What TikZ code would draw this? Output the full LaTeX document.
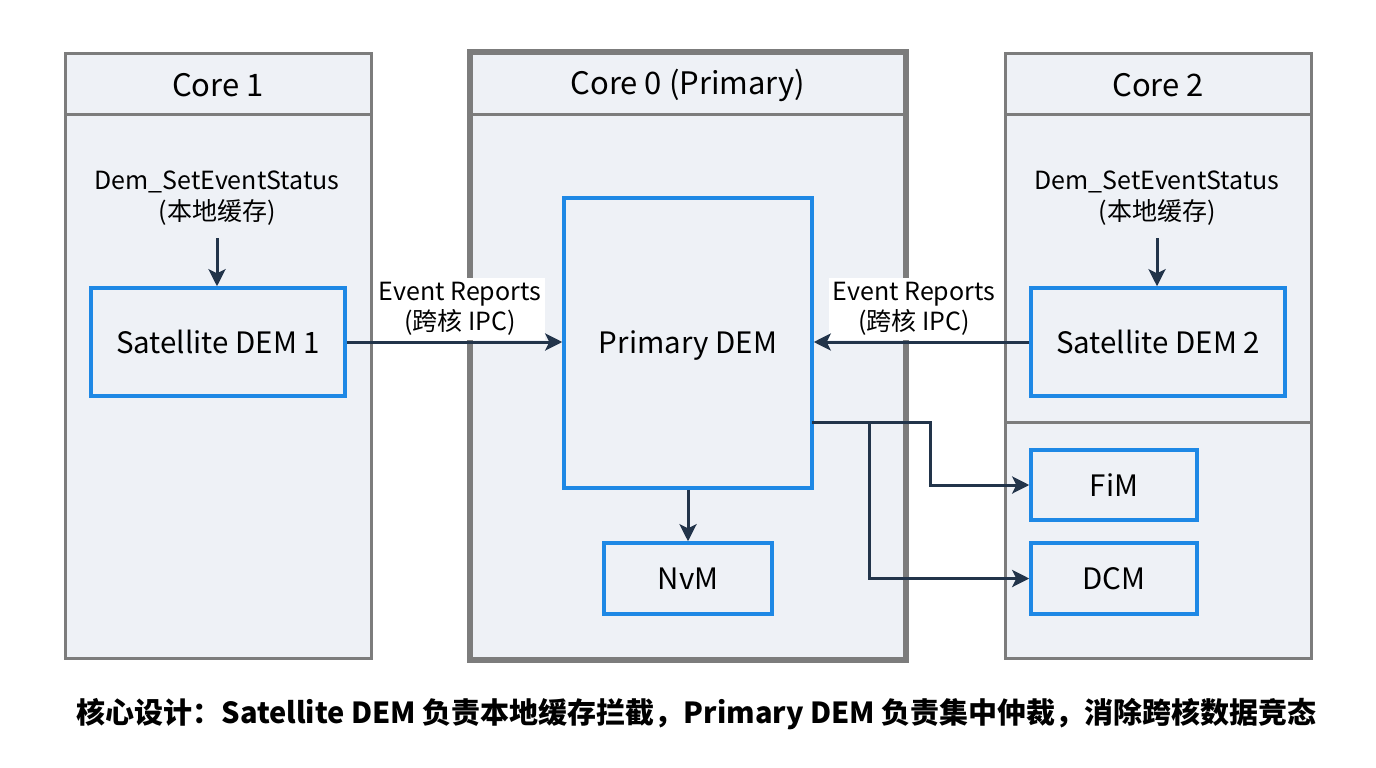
\documentclass[tikz,border=0pt]{standalone}
\usepackage{fontspec}
\setmainfont{Noto Sans CJK SC}
\usetikzlibrary{arrows.meta}
\definecolor{corefill}{HTML}{EEF1F6}
\definecolor{coreline}{HTML}{7C7C7C}
\definecolor{bluebox}{HTML}{1E88E5}
\definecolor{arrowc}{HTML}{22344A}
\tikzset{
  corebox/.style={draw=coreline, fill=corefill, line width=3pt, inner sep=0pt},
  mainbox/.style={draw=coreline, fill=corefill, line width=6pt, inner sep=0pt},
  divider/.style={draw=coreline, line width=3pt},
  blk/.style={draw=bluebox, fill=corefill, line width=3.5pt, inner sep=0pt},
  arr/.style={draw=arrowc, line width=3pt, -{Stealth[length=17pt,width=17pt,inset=4pt]}},
  lbl/.style={font=\fontsize{25}{31}\selectfont, align=center, inner sep=0pt},
  elbl/.style={font=\fontsize{25}{30}\selectfont, align=center, fill=white, inner xsep=4pt, inner ysep=4pt},
  hdr/.style={font=\fontsize{31}{36}\selectfont},
  blktxt/.style={font=\fontsize{29.5}{34}\selectfont},
}
\begin{document}
\begin{tikzpicture}[x=1pt,y=-1pt]
\useasboundingbox (0,0) rectangle (1376,768);
\fill[white] (0,0) rectangle (1376,768);
% cores
\node[corebox, minimum width=306pt, minimum height=604pt] (core1) at (218,356) {};
\node[corebox, minimum width=306pt, minimum height=604pt] (core2) at (1158,356) {};
\node[mainbox, minimum width=436pt, minimum height=608pt] (core0) at (688,356) {};
\draw[divider] (65,114) -- (371,114);
\draw[divider] (473,114) -- (903,114);
\draw[divider] (1005,114) -- (1311,114);
\draw[divider] (1005,422) -- (1311,422);
% headers
\node[hdr] (h1) at (218,85) {Core 1};
\node[hdr] (h0) at (688,85) {Core 0 (Primary)};
\node[hdr] (h2) at (1158,85) {Core 2};
% blocks
\node[blk, blktxt, minimum width=254pt, minimum height=108pt] (sat1) at (218,342) {Satellite DEM 1};
\node[blk, blktxt, minimum width=254pt, minimum height=108pt] (sat2) at (1158,342) {Satellite DEM 2};
\node[blk, minimum width=248pt, minimum height=290pt] (prim) at (688,343) {};
\node[blktxt] (primt) at (688,346) {Primary DEM};
\node[blk, blktxt, minimum width=168pt, minimum height=71pt] (nvm) at (688,578.5) {NvM};
\node[blk, blktxt, minimum width=166pt, minimum height=70pt] (fim) at (1114,485) {FiM};
\node[blk, blktxt, minimum width=166pt, minimum height=71pt] (dcm) at (1114,578.5) {DCM};
% API labels
\node[lbl] (api1) at (217,198) {Dem\_SetEventStatus\\(本地缓存)};
\node[lbl] (api2) at (1157,198) {Dem\_SetEventStatus\\(本地缓存)};
\draw[arr] (217,238) -- (sat1.north -| 217,0);
\draw[arr] (1157,238) -- (sat2.north -| 1157,0);
% event report labels
\node[elbl] (ev1) at (460,309) {Event Reports\\(跨核 IPC)};
\node[elbl] (ev2) at (914,309) {Event Reports\\(跨核 IPC)};
\draw[arr] (sat1.east) -- (prim.west |- sat1.east);
\draw[arr] (sat2.west) -- (prim.east |- sat2.west);
\draw[arr] (prim.south) -- (nvm.north);
% to FiM / DCM
\coordinate (pout) at (812,422);
\coordinate (br) at (869,422);
\draw[arr] (pout) -- (930,422) |- (fim.west);
\draw[arr] (br) |- (dcm.west);
% footer
\node[font=\bfseries\fontsize{29}{34}\selectfont, anchor=west] (foot) at (73,714) {核心设计：Satellite DEM 负责本地缓存拦截，Primary DEM 负责集中仲裁，消除跨核数据竞态};
\end{tikzpicture}
\end{document}
